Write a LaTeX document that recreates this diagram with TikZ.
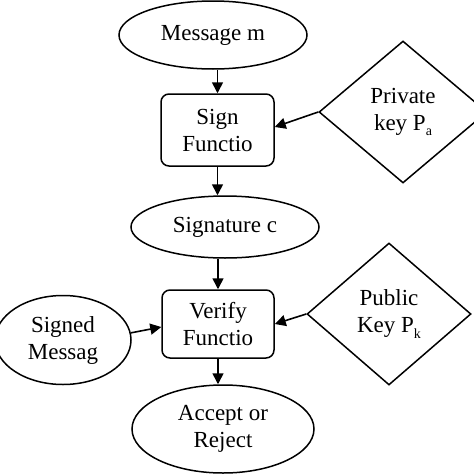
\documentclass[tikz,border=0pt]{standalone}
\usepackage{fontspec}
\setmainfont{Liberation Serif}
\usetikzlibrary{shapes.geometric,arrows.meta}
\newcommand\sbs[1]{\raisebox{-0.22em}{\fontsize{14}{14}\selectfont #1}}
\begin{document}
\begin{tikzpicture}[x=1pt,y=-1pt,
  every node/.style={font=\fontsize{23}{27}\selectfont, align=center, inner sep=0pt, line width=1.5pt},
  oval/.style={draw, ellipse},
  procbox/.style={draw, rounded corners=8pt},
  keyshape/.style={draw, diamond},
  conn/.style={line width=1.6pt, -{Triangle[length=11pt,width=11pt]}}]
\path[use as bounding box, clip] (0,0) rectangle (474,474);
\fill[white] (0,0) rectangle (474,474);
\node[oval, minimum width=188pt, minimum height=68pt] (msg) at (213,35) {Message m};
\node[procbox, minimum width=113pt, minimum height=72pt] (sign) at (217.5,130) {Sign\\Functio};
\node[keyshape, minimum width=168pt, minimum height=142pt] (pk) at (403,112) {Private\\key P\sbs{a}};
\node[oval, minimum width=188pt, minimum height=62pt] (sig) at (225,227) {Signature c};
\node[procbox, minimum width=112pt, minimum height=68pt] (ver) at (218,324) {Verify\\Functio};
\node[keyshape, minimum width=164pt, minimum height=142pt] (pub) at (389,314) {Public\\Key P\sbs{k}};
\node[oval, minimum width=136pt, minimum height=89pt] (sm) at (63,340) {Signed\\Messag};
\node[oval, minimum width=182pt, minimum height=88pt] (acc) at (223,429) {Accept or\\Reject};
\draw[conn] (msg.south -| sign.north) -- (sign.north);
\draw[conn] (pk.west) -- ([yshift=3pt]sign.east);
\draw[conn] (sign.south) -- (sign.south |- sig.north);
\draw[conn] (sig.south -| ver.north) -- (ver.north);
\draw[conn] (sm.6) -- ([yshift=-3pt]ver.west);
\draw[conn] (pub.west) -- (ver.east);
\draw[conn] (ver.south) -- (ver.south |- acc.north);
\end{tikzpicture}
\end{document}
